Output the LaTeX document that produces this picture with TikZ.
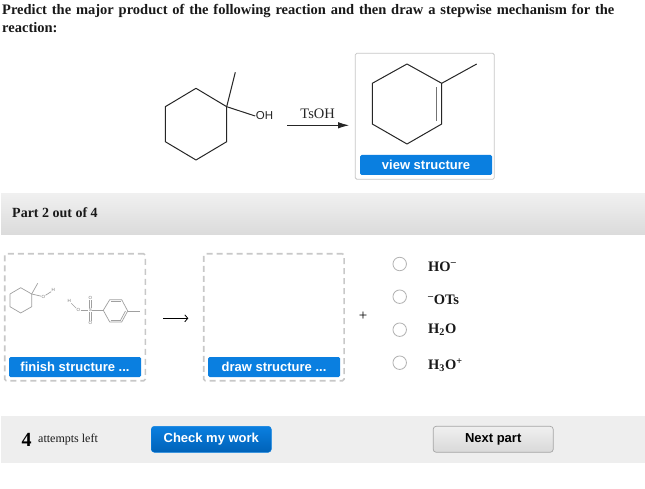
\documentclass[tikz,border=0pt]{standalone}
\usepackage{fontspec}
\setmainfont{Liberation Serif}
\setsansfont{Liberation Sans}
\usetikzlibrary{arrows.meta,shadings}
\definecolor{btn}{HTML}{0A7FE0}
\definecolor{btnd}{HTML}{0062B8}
\definecolor{band}{HTML}{EEEEEE}
\definecolor{dash}{HTML}{C8C8C8}
\definecolor{ghost}{HTML}{A0A0A0}
\tikzset{
 x=1pt,y=-1pt,
 bond/.style={draw=black!85,line width=1pt},
 fbond/.style={draw=ghost,line width=0.7pt},
 atom/.style={font=\fontsize{11.5}{12}\sffamily,text=black!85,inner sep=0.5pt},
 fatom/.style={font=\fontsize{4.5}{4.5}\sffamily,text=black!55,inner sep=0.3pt},
 bluebtn/.style={fill=btn,rounded corners=1.5pt,text=white,font=\fontsize{13}{13}\sffamily\bfseries,inner sep=0pt,align=center},
 dashbox/.style={draw=dash,line width=1.6pt,dash pattern=on 6pt off 4pt,rounded corners=1.5pt},
 radio/.style={circle,draw=black!30,fill=white,line width=0.8pt,minimum size=13.5pt,inner sep=0pt},
 chem/.style={font=\fontsize{14.5}{15}\selectfont\bfseries,anchor=west,inner sep=0pt,text=black!90},
 head/.style={font=\fontsize{14.5}{17.5}\selectfont\bfseries,anchor=north west,inner sep=0pt,align=left,text=black!90},
}
\begin{document}
\begin{tikzpicture}
\useasboundingbox (0,0) rectangle (645,489);
\fill[white] (0,0) rectangle (645,489);
% heading
\node[head,text width=640pt] (title) at (2,4.5) {Predict the major product of the following reaction and then draw a stepwise mechanism for the\\reaction:};
% reactant
\coordinate (a1) at (226.7,106.7);\coordinate (a2) at (226.7,141.7);\coordinate (a3) at (196,160);
\coordinate (a4) at (165.3,141.7);\coordinate (a5) at (165.3,106.7);\coordinate (a6) at (196,88.3);
\coordinate (ame) at (235.3,72.3);
\node[atom] (oh) at (264.5,116) {OH};
\draw[bond,line join=round] (a1)--(a2)--(a3)--(a4)--(a5)--(a6)--cycle;
\draw[bond] (a1)--(ame);
\draw[bond] (a1)--(oh.west);
% reaction arrow
\coordinate (rs) at (287.3,125.3);\coordinate (re) at (349,125.3);
\draw[line width=0.8pt,black!85,-{Latex[length=11pt,width=6.5pt]}] (rs)--(re);
\node[font=\fontsize{14.5}{14.5}\selectfont,text=black!85,inner sep=0pt] (tsoh) at (317.7,114) {TsOH};
% product box
\node[draw=black!22,fill=white,line width=0.8pt,rounded corners=1.5pt,minimum width=139pt,minimum height=126pt,inner sep=0pt] (pbox) at (424.8,116.3) {};
\coordinate (p1) at (441.7,83.3);\coordinate (p2) at (441.7,124);\coordinate (p3) at (407,144);
\coordinate (p4) at (372.3,124);\coordinate (p5) at (372.3,83.3);\coordinate (p6) at (407,64);
\coordinate (pme) at (476.7,64);\coordinate (d1) at (436.7,87.3);\coordinate (d2) at (436.7,120.7);
\draw[bond,line join=round] (p1)--(p2)--(p3)--(p4)--(p5)--(p6)--cycle;
\draw[bond] (p1)--(pme);
\draw[draw=black!55,line width=1pt] (d1)--(d2);
\node[bluebtn,minimum width=132pt,minimum height=20pt] (vs) at (426,165) {view structure};
% part band
\fill[top color=black!6,middle color=black!6,bottom color=black!14] (1,194) rectangle (645,234);
\node[font=\fontsize{14}{14}\selectfont\bfseries,anchor=west,inner sep=0pt,text=black!90] (part) at (12,213) {Part 2 out of 4};
% left dashed box
\node[dashbox,minimum width=140.6pt,minimum height=127pt,inner sep=0pt] (lbox) at (75,317.2) {};
\coordinate (s1) at (31.7,294);\coordinate (s2) at (31.7,306.7);\coordinate (s3) at (20.7,313);
\coordinate (s4) at (10,306.7);\coordinate (s5) at (10,294);\coordinate (s6) at (20.7,287.7);
\coordinate (sme) at (37.7,283.3);
\node[fatom] (so) at (43.3,296.7) {O};
\node[fatom] (sh) at (53.3,290.3) {H};
\draw[fbond,line join=round] (s1)--(s2)--(s3)--(s4)--(s5)--(s6)--cycle;
\draw[fbond] (s1)--(sme);
\draw[fbond] (s1)--(so);
\draw[fbond] (so)--(sh);
\node[fatom] (th) at (69.3,301.3) {H};
\node[fatom] (to) at (78.3,310.3) {O};
\node[fatom] (ts) at (90.3,310.3) {S};
\node[fatom] (to1) at (90.3,297.7) {O};
\node[fatom] (to2) at (90.3,323) {O};
\coordinate (r1) at (103.3,310.3);\coordinate (r2) at (109.7,299.7);\coordinate (r3) at (121.7,299.7);
\coordinate (r4) at (127.7,311);\coordinate (r5) at (121.7,322);\coordinate (r6) at (109.7,322);
\coordinate (rme) at (140,311);
\draw[fbond] (th)--(to);
\draw[fbond] (to)--(ts);
\draw[fbond] ([xshift=-0.7pt]ts.north)--([xshift=-0.7pt]to1.south);
\draw[fbond] ([xshift=0.7pt]ts.north)--([xshift=0.7pt]to1.south);
\draw[fbond] ([xshift=-0.7pt]ts.south)--([xshift=-0.7pt]to2.north);
\draw[fbond] ([xshift=0.7pt]ts.south)--([xshift=0.7pt]to2.north);
\draw[fbond] (ts)--(r1);
\draw[fbond,line join=round] (r1)--(r2)--(r3)--(r4)--(r5)--(r6)--cycle;
\coordinate (i1) at (111,301.5);\coordinate (i2) at (120.5,301.5);
\coordinate (i3) at (125.5,311);\coordinate (i4) at (120.5,320.3);
\coordinate (i5) at (110.5,320.3);\coordinate (i6) at (120.5,320.3);
\draw[fbond] (i1)--(i2);
\draw[fbond] (i3)--(i4);
\draw[fbond] (i5)--(i6);
\draw[fbond] (r4)--(rme);
\node[bluebtn,minimum width=132pt,minimum height=20pt] (fs) at (75,367) {finish structure ...};
% mechanism arrow
\coordinate (ms) at (163.3,318.3);\coordinate (me) at (188.3,318.3);
\draw[line width=0.8pt,black,-{Straight Barb[length=3pt,width=7pt]}] (ms)--(me);
% middle dashed box
\node[dashbox,minimum width=140.3pt,minimum height=127pt,inner sep=0pt] (mbox) at (273.9,317.2) {};
\node[bluebtn,minimum width=132pt,minimum height=20pt] (ds) at (274,367) {draw structure ...};
\node[font=\fontsize{15}{15}\selectfont,inner sep=0pt] (plus) at (363,316.5) {+};
% options
\node[radio] (r-a) at (399.7,264) {};
\node[radio] (r-b) at (399.7,296.7) {};
\node[radio] (r-c) at (399.7,329.7) {};
\node[radio] (r-d) at (399.7,362.7) {};
\node[chem] (l-a) at (428,267) {HO\textsuperscript{\raisebox{0.15ex}{–}}};
\node[chem] (l-b) at (428,300) {\textsuperscript{–}OTs};
\node[chem] (l-c) at (428,330) {H\textsubscript{2}O};
\node[chem] (l-d) at (428,365) {H\textsubscript{3}O\textsuperscript{+}};
% bottom band
\fill[band] (1,416) rectangle (645,463);
\node[font=\fontsize{20}{20}\selectfont\bfseries,anchor=west,inner sep=0pt] (four) at (21.5,440) {4};
\node[font=\fontsize{12}{12}\selectfont,anchor=west,inner sep=0pt,text=black!90] (att) at (38,440) {attempts left};
\node[top color=btn,bottom color=btnd,draw=btn,rounded corners=3pt,text=white,font=\fontsize{13}{13}\sffamily\bfseries,minimum width=120pt,minimum height=26pt,inner sep=0pt] (chk) at (211.3,439.3) {Check my work};
\node[top color=black!6,bottom color=black!15,draw=black!35,line width=0.7pt,rounded corners=3pt,text=black,font=\fontsize{13}{13}\sffamily\bfseries,minimum width=120pt,minimum height=26pt,inner sep=0pt] (nxt) at (493.2,439.3) {Next part};
\end{tikzpicture}
\end{document}
